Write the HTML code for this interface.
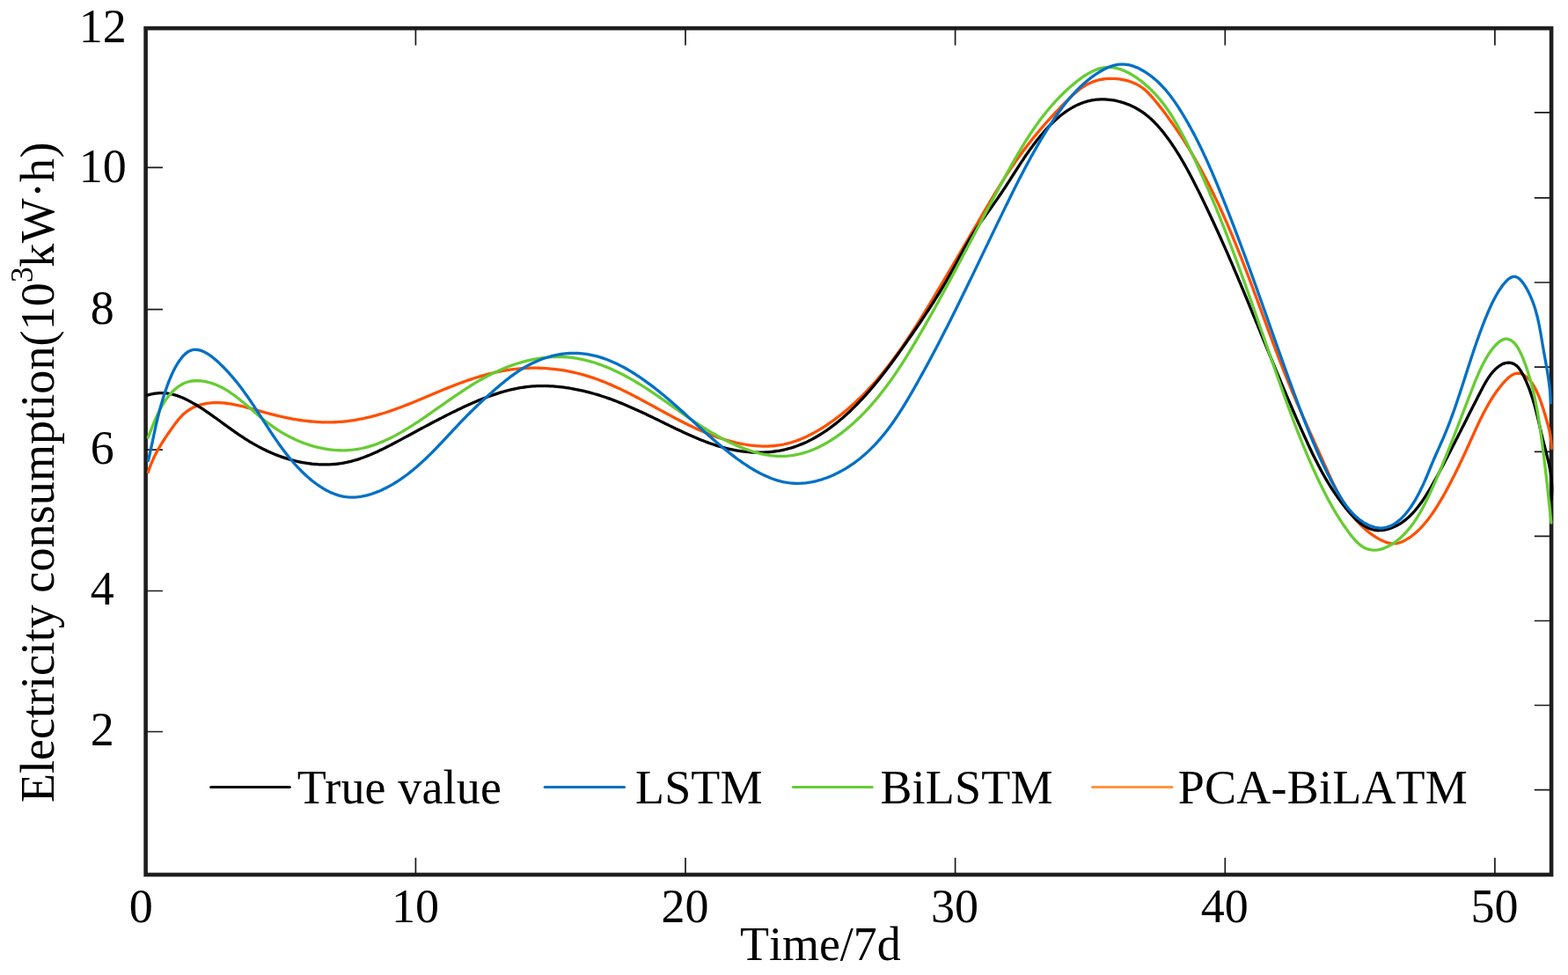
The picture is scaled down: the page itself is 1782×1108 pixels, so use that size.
<!DOCTYPE html>
<html lang="en"><head><meta charset="utf-8"><title>Electricity consumption forecast</title>
<style>html,body{margin:0;padding:0;background:#fff}body{width:1782px;height:1108px;overflow:hidden}svg{display:block}text{font-family:"Liberation Serif","Times New Roman",serif;fill:#000;font-kerning:none;font-variant-ligatures:none}.tk{stroke:#1a1a1a;stroke-width:1.7;fill:none}.cv{fill:none;stroke-width:3.3;stroke-linecap:round;stroke-linejoin:round}.lg{fill:none;stroke-width:3.2;stroke-linecap:round}</style></head><body>
<svg width="1782" height="1108" viewBox="0 0 1782 1108">
<rect x="0" y="0" width="1782" height="1108" fill="#fff"/>
<!-- plot frame and tick marks -->
<rect x="165.60" y="32.10" width="1597.50" height="961.90" fill="none" stroke="#1e1e1e" stroke-width="4.6"/>
<path class="tk" d="M165.60 190.30H184.90M165.60 351.60H184.90M165.60 511.20H184.90M165.60 671.50H184.90M165.60 831.50H184.90M1763.10 127.85H1743.80M1763.10 224.95H1743.80M1763.10 321.00H1743.80M1763.10 417.10H1743.80M1763.10 513.30H1743.80M1763.10 609.40H1743.80M1763.10 705.50H1743.80M1763.10 801.50H1743.80M1763.10 897.60H1743.80M472.40 994.00V974.70M472.40 32.10V51.40M779.00 994.00V974.70M779.00 32.10V51.40M1085.60 994.00V974.70M1085.60 32.10V51.40M1392.30 994.00V974.70M1392.30 32.10V51.40M1698.90 994.00V974.70M1698.90 32.10V51.40"/>
<!-- data curves (drawn bottom to top: PCA-BiLATM, True value, BiLSTM, LSTM) -->
<path class="cv" stroke="#ff5000" d="M168.41 536.47L169.23 534.01 170.09 531.59 170.98 529.22 171.92 526.88 172.89 524.58 173.89 522.3 174.93 520.06 176 517.85 177.11 515.66 178.25 513.5 179.42 511.35 180.62 509.22 181.85 507.11 183.11 505.01 184.4 502.92 185.72 500.83 187.07 498.76 188.44 496.68 189.84 494.6 191.26 492.53 192.71 490.44 194.18 488.35 195.68 486.25 197.19 484.14 198.74 482.03 200.32 479.94 201.93 477.88 203.6 475.87 205.32 473.93 207.1 472.07 208.95 470.31 210.87 468.67 212.86 467.16 214.93 465.77 217.05 464.51 219.22 463.37 221.43 462.34 223.68 461.42 225.95 460.61 228.24 459.9 230.54 459.3 232.86 458.79 235.19 458.37 237.53 458.05 239.89 457.81 242.26 457.66 244.64 457.58 247.03 457.58 249.44 457.64 251.85 457.78 254.28 457.98 256.71 458.24 259.15 458.55 261.6 458.92 264.06 459.33 266.52 459.79 268.99 460.29 271.47 460.83 273.95 461.4 276.44 462.01 278.93 462.63 281.42 463.28 283.92 463.95 286.42 464.64 288.93 465.33 291.43 466.03 293.94 466.74 296.44 467.44 298.95 468.14 301.46 468.84 303.96 469.52 306.47 470.19 308.97 470.84 311.47 471.47 313.97 472.09 316.46 472.68 318.96 473.26 321.45 473.82 323.94 474.36 326.43 474.87 328.92 475.37 331.4 475.84 333.89 476.29 336.37 476.72 338.84 477.12 341.32 477.5 343.79 477.85 346.26 478.18 348.73 478.48 351.2 478.76 353.66 479.01 356.12 479.23 358.58 479.42 361.04 479.58 363.49 479.71 365.94 479.81 368.39 479.88 370.83 479.92 373.28 479.93 375.72 479.9 378.15 479.84 380.59 479.75 383.02 479.63 385.45 479.47 387.87 479.28 390.3 479.06 392.72 478.81 395.14 478.53 397.56 478.22 399.97 477.88 402.38 477.52 404.8 477.12 407.21 476.69 409.61 476.24 412.02 475.76 414.43 475.25 416.83 474.71 419.23 474.15 421.64 473.57 424.04 472.95 426.44 472.31 428.84 471.65 431.23 470.96 433.63 470.25 436.03 469.52 438.43 468.76 440.82 467.97 443.22 467.17 445.61 466.35 448.01 465.5 450.4 464.64 452.8 463.76 455.19 462.86 457.59 461.95 459.98 461.02 462.37 460.09 464.76 459.13 467.15 458.17 469.54 457.2 471.93 456.23 474.31 455.24 476.7 454.25 479.08 453.25 481.46 452.25 483.85 451.25 486.23 450.25 488.6 449.24 490.98 448.24 493.36 447.24 495.73 446.24 498.1 445.25 500.47 444.26 502.84 443.28 505.21 442.31 507.57 441.35 509.94 440.4 512.3 439.46 514.66 438.53 517.01 437.61 519.37 436.71 521.73 435.82 524.08 434.95 526.43 434.09 528.79 433.25 531.14 432.42 533.49 431.62 535.85 430.82 538.2 430.05 540.56 429.3 542.92 428.56 545.28 427.85 547.64 427.15 550 426.48 552.37 425.83 554.74 425.2 557.11 424.59 559.49 424.01 561.87 423.45 564.25 422.92 566.64 422.41 569.03 421.92 571.43 421.47 573.83 421.04 576.24 420.63 578.66 420.26 581.08 419.91 583.5 419.6 585.94 419.31 588.38 419.06 590.82 418.83 593.28 418.64 595.74 418.48 598.21 418.35 600.69 418.25 603.17 418.19 605.66 418.16 608.15 418.15 610.65 418.19 613.15 418.25 615.65 418.34 618.16 418.47 620.66 418.62 623.17 418.81 625.68 419.03 628.19 419.28 630.69 419.56 633.2 419.87 635.7 420.21 638.19 420.58 640.69 420.98 643.18 421.41 645.66 421.87 648.14 422.36 650.61 422.88 653.07 423.42 655.53 424 657.98 424.61 660.41 425.24 662.84 425.9 665.26 426.6 667.66 427.32 670.06 428.06 672.44 428.84 674.82 429.64 677.18 430.46 679.53 431.31 681.87 432.19 684.21 433.09 686.53 434 688.85 434.94 691.15 435.9 693.45 436.88 695.74 437.88 698.03 438.9 700.31 439.94 702.58 440.99 704.84 442.05 707.1 443.13 709.35 444.23 711.6 445.34 713.84 446.46 716.08 447.59 718.31 448.73 720.54 449.88 722.76 451.05 724.98 452.22 727.2 453.39 729.42 454.58 731.63 455.77 733.84 456.97 736.05 458.17 738.25 459.37 740.46 460.57 742.67 461.78 744.87 462.99 747.07 464.2 749.28 465.41 751.48 466.62 753.69 467.82 755.89 469.03 758.1 470.22 760.31 471.42 762.52 472.61 764.74 473.79 766.95 474.97 769.17 476.13 771.4 477.29 773.62 478.44 775.85 479.58 778.09 480.71 780.33 481.83 782.57 482.93 784.82 484.02 787.08 485.1 789.34 486.16 791.61 487.21 793.88 488.24 796.16 489.25 798.45 490.24 800.75 491.21 803.05 492.17 805.36 493.1 807.68 494.02 810.01 494.91 812.35 495.77 814.7 496.62 817.06 497.43 819.42 498.23 821.8 498.99 824.19 499.73 826.59 500.44 829 501.13 831.43 501.78 833.86 502.4 836.3 502.99 838.76 503.55 841.21 504.07 843.68 504.55 846.15 505 848.63 505.4 851.11 505.77 853.59 506.09 856.08 506.37 858.57 506.61 861.05 506.8 863.54 506.94 866.03 507.04 868.51 507.08 870.99 507.08 873.47 507.02 875.94 506.9 878.4 506.73 880.86 506.51 883.31 506.22 885.75 505.88 888.19 505.48 890.61 505.01 893.02 504.48 895.42 503.9 897.81 503.25 900.19 502.55 902.55 501.79 904.9 500.98 907.24 500.12 909.56 499.21 911.87 498.26 914.17 497.25 916.46 496.21 918.72 495.12 920.98 493.99 923.22 492.83 925.44 491.63 927.64 490.39 929.84 489.12 932.01 487.82 934.17 486.5 936.31 485.14 938.43 483.76 940.53 482.36 942.62 480.94 944.69 479.49 946.74 478.03 948.77 476.55 950.78 475.05 952.77 473.54 954.75 472 956.71 470.45 958.65 468.89 960.57 467.31 962.48 465.71 964.37 464.09 966.25 462.46 968.1 460.81 969.95 459.15 971.77 457.47 973.58 455.78 975.38 454.07 977.16 452.35 978.93 450.62 980.68 448.87 982.41 447.1 984.14 445.32 985.85 443.53 987.54 441.73 989.22 439.91 990.89 438.08 992.55 436.24 994.19 434.39 995.82 432.52 997.44 430.65 999.04 428.76 1000.64 426.86 1002.22 424.95 1003.79 423.03 1005.35 421.09 1006.9 419.15 1008.43 417.2 1009.96 415.24 1011.48 413.26 1012.98 411.28 1014.48 409.29 1015.97 407.29 1017.45 405.29 1018.92 403.27 1020.38 401.24 1021.83 399.21 1023.27 397.17 1024.7 395.12 1026.13 393.07 1027.55 391.01 1028.96 388.94 1030.36 386.86 1031.76 384.78 1033.15 382.69 1034.53 380.6 1035.91 378.5 1037.28 376.39 1038.64 374.28 1040 372.17 1041.36 370.05 1042.7 367.92 1044.05 365.79 1045.39 363.66 1046.72 361.52 1048.05 359.38 1049.37 357.24 1050.69 355.1 1052.01 352.95 1053.33 350.79 1054.64 348.64 1055.94 346.48 1057.25 344.32 1058.55 342.16 1059.85 340 1061.15 337.84 1062.44 335.68 1063.74 333.51 1065.03 331.35 1066.32 329.18 1067.61 327.02 1068.9 324.85 1070.19 322.68 1071.48 320.52 1072.77 318.35 1074.05 316.19 1075.34 314.02 1076.62 311.86 1077.9 309.69 1079.18 307.52 1080.46 305.36 1081.74 303.19 1083.02 301.03 1084.3 298.86 1085.57 296.7 1086.85 294.53 1088.12 292.37 1089.39 290.2 1090.67 288.04 1091.94 285.88 1093.21 283.71 1094.48 281.55 1095.74 279.39 1097.01 277.23 1098.28 275.06 1099.54 272.9 1100.81 270.74 1102.07 268.58 1103.33 266.42 1104.59 264.26 1105.85 262.11 1107.11 259.95 1108.37 257.79 1109.63 255.63 1110.88 253.48 1112.14 251.32 1113.39 249.17 1114.65 247.02 1115.9 244.87 1117.16 242.72 1118.42 240.57 1119.68 238.42 1120.94 236.28 1122.2 234.13 1123.46 231.99 1124.73 229.85 1126 227.72 1127.28 225.58 1128.56 223.45 1129.84 221.32 1131.13 219.2 1132.42 217.07 1133.72 214.96 1135.03 212.84 1136.34 210.73 1137.66 208.62 1138.98 206.51 1140.31 204.41 1141.65 202.32 1143 200.22 1144.35 198.13 1145.72 196.05 1147.09 193.97 1148.47 191.9 1149.87 189.83 1151.27 187.76 1152.68 185.7 1154.11 183.65 1155.54 181.6 1156.99 179.56 1158.45 177.52 1159.92 175.49 1161.4 173.46 1162.9 171.45 1164.41 169.43 1165.93 167.43 1167.47 165.43 1169.02 163.43 1170.58 161.45 1172.15 159.47 1173.73 157.5 1175.32 155.54 1176.93 153.58 1178.54 151.63 1180.17 149.7 1181.8 147.76 1183.44 145.84 1185.09 143.93 1186.75 142.03 1188.42 140.13 1190.1 138.24 1191.78 136.37 1193.47 134.5 1195.16 132.65 1196.86 130.8 1198.57 128.96 1200.28 127.14 1202 125.32 1203.72 123.52 1205.45 121.73 1207.18 119.95 1208.91 118.18 1210.65 116.42 1212.39 114.67 1214.13 112.94 1215.89 111.22 1217.65 109.54 1219.43 107.88 1221.23 106.25 1223.06 104.67 1224.91 103.14 1226.8 101.66 1228.73 100.23 1230.7 98.88 1232.72 97.59 1234.79 96.37 1236.91 95.24 1239.09 94.19 1241.34 93.24 1243.66 92.38 1246.04 91.63 1248.5 90.98 1251.01 90.44 1253.57 90 1256.17 89.67 1258.81 89.44 1261.47 89.31 1264.15 89.3 1266.84 89.39 1269.53 89.58 1272.21 89.88 1274.88 90.29 1277.52 90.8 1280.14 91.42 1282.71 92.15 1285.23 92.98 1287.7 93.93 1290.11 94.98 1292.44 96.13 1294.69 97.4 1296.85 98.77 1298.92 100.26 1300.9 101.84 1302.8 103.5 1304.62 105.24 1306.39 107.05 1308.1 108.91 1309.77 110.82 1311.41 112.75 1313.03 114.71 1314.62 116.67 1316.21 118.64 1317.78 120.62 1319.34 122.61 1320.89 124.6 1322.42 126.6 1323.94 128.6 1325.45 130.62 1326.95 132.64 1328.43 134.66 1329.9 136.7 1331.36 138.74 1332.81 140.78 1334.25 142.83 1335.67 144.89 1337.09 146.96 1338.49 149.03 1339.88 151.11 1341.26 153.19 1342.63 155.28 1343.98 157.37 1345.33 159.47 1346.67 161.58 1347.99 163.69 1349.31 165.81 1350.61 167.94 1351.9 170.06 1353.19 172.2 1354.46 174.34 1355.73 176.48 1356.98 178.64 1358.23 180.79 1359.46 182.95 1360.69 185.12 1361.91 187.29 1363.11 189.46 1364.31 191.65 1365.5 193.83 1366.68 196.02 1367.86 198.22 1369.02 200.42 1370.18 202.62 1371.32 204.83 1372.46 207.04 1373.59 209.26 1374.72 211.48 1375.83 213.7 1376.94 215.93 1378.04 218.17 1379.13 220.41 1380.22 222.65 1381.3 224.89 1382.37 227.14 1383.43 229.4 1384.49 231.65 1385.54 233.91 1386.58 236.18 1387.62 238.44 1388.65 240.72 1389.68 242.99 1390.7 245.27 1391.71 247.55 1392.72 249.83 1393.72 252.12 1394.71 254.41 1395.7 256.7 1396.69 259 1397.67 261.29 1398.64 263.6 1399.61 265.9 1400.58 268.21 1401.53 270.51 1402.49 272.83 1403.44 275.14 1404.39 277.46 1405.33 279.77 1406.26 282.09 1407.2 284.42 1408.13 286.74 1409.05 289.07 1409.97 291.4 1410.89 293.73 1411.81 296.06 1412.72 298.4 1413.63 300.73 1414.53 303.07 1415.43 305.41 1416.33 307.75 1417.23 310.09 1418.12 312.43 1419.01 314.78 1419.9 317.12 1420.79 319.47 1421.67 321.82 1422.55 324.17 1423.43 326.52 1424.31 328.87 1425.19 331.22 1426.06 333.57 1426.94 335.93 1427.81 338.28 1428.68 340.63 1429.55 342.99 1430.42 345.34 1431.29 347.7 1432.16 350.06 1433.03 352.41 1433.89 354.77 1434.76 357.12 1435.63 359.48 1436.49 361.83 1437.36 364.19 1438.23 366.54 1439.1 368.9 1439.97 371.25 1440.84 373.6 1441.71 375.95 1442.58 378.31 1443.45 380.66 1444.32 383.01 1445.2 385.35 1446.08 387.7 1446.96 390.05 1447.84 392.39 1448.72 394.74 1449.6 397.08 1450.49 399.42 1451.38 401.76 1452.27 404.1 1453.16 406.43 1454.06 408.77 1454.96 411.1 1455.86 413.43 1456.77 415.76 1457.68 418.08 1458.59 420.41 1459.51 422.73 1460.43 425.05 1461.35 427.36 1462.28 429.68 1463.21 431.99 1464.15 434.3 1465.09 436.6 1466.03 438.91 1466.98 441.21 1467.94 443.5 1468.89 445.8 1469.86 448.09 1470.83 450.38 1471.8 452.67 1472.77 454.95 1473.75 457.23 1474.74 459.52 1475.72 461.8 1476.72 464.08 1477.71 466.35 1478.71 468.63 1479.71 470.91 1480.71 473.18 1481.72 475.46 1482.73 477.74 1483.74 480.01 1484.76 482.29 1485.78 484.57 1486.8 486.84 1487.82 489.12 1488.84 491.4 1489.87 493.68 1490.9 495.96 1491.93 498.24 1492.96 500.53 1493.99 502.82 1495.03 505.1 1496.06 507.4 1497.1 509.69 1498.14 511.99 1499.18 514.28 1500.22 516.59 1501.26 518.89 1502.3 521.2 1503.34 523.51 1504.38 525.83 1505.43 528.15 1506.47 530.47 1507.52 532.8 1508.57 535.12 1509.62 537.44 1510.69 539.76 1511.76 542.08 1512.84 544.39 1513.93 546.7 1515.03 548.99 1516.14 551.28 1517.27 553.56 1518.41 555.82 1519.57 558.07 1520.75 560.31 1521.95 562.54 1523.16 564.74 1524.4 566.93 1525.66 569.1 1526.95 571.24 1528.26 573.37 1529.6 575.47 1530.96 577.54 1532.36 579.59 1533.78 581.62 1535.24 583.61 1536.73 585.58 1538.26 587.51 1539.81 589.41 1541.41 591.28 1543.04 593.11 1544.72 594.9 1546.43 596.66 1548.19 598.38 1549.99 600.06 1551.83 601.69 1553.72 603.28 1555.65 604.83 1557.63 606.34 1559.67 607.79 1561.75 609.2 1563.88 610.56 1566.07 611.86 1568.31 613.11 1570.58 614.27 1572.89 615.3 1575.21 616.2 1577.53 616.91 1579.85 617.42 1582.16 617.69 1584.43 617.72 1586.68 617.52 1588.9 617.1 1591.09 616.48 1593.25 615.69 1595.37 614.75 1597.47 613.66 1599.53 612.45 1601.55 611.15 1603.54 609.75 1605.5 608.28 1607.42 606.72 1609.3 605.1 1611.16 603.4 1612.98 601.64 1614.76 599.82 1616.52 597.94 1618.24 596 1619.93 594.02 1621.59 591.99 1623.22 589.91 1624.82 587.8 1626.39 585.64 1627.93 583.46 1629.45 581.25 1630.93 579.02 1632.39 576.76 1633.83 574.49 1635.23 572.21 1636.61 569.91 1637.97 567.61 1639.3 565.31 1640.6 563.01 1641.89 560.72 1643.15 558.43 1644.38 556.16 1645.6 553.91 1646.79 551.67 1647.96 549.45 1649.12 547.24 1650.25 545.04 1651.37 542.86 1652.48 540.68 1653.57 538.51 1654.64 536.35 1655.71 534.19 1656.76 532.04 1657.8 529.88 1658.83 527.73 1659.86 525.58 1660.88 523.43 1661.89 521.28 1662.9 519.12 1663.91 516.95 1664.91 514.78 1665.91 512.6 1666.92 510.41 1667.92 508.21 1668.93 506 1669.94 503.77 1670.95 501.53 1671.97 499.27 1673 496.99 1674.03 494.7 1675.07 492.4 1676.13 490.08 1677.19 487.76 1678.27 485.43 1679.36 483.09 1680.46 480.75 1681.58 478.41 1682.72 476.08 1683.88 473.74 1685.05 471.41 1686.25 469.09 1687.47 466.77 1688.71 464.47 1689.97 462.18 1691.26 459.9 1692.57 457.65 1693.92 455.41 1695.29 453.19 1696.69 450.99 1698.12 448.83 1699.58 446.68 1701.08 444.57 1702.61 442.49 1704.17 440.44 1705.77 438.42 1707.41 436.44 1709.09 434.51 1710.81 432.64 1712.55 430.87 1714.33 429.23 1716.14 427.76 1717.97 426.5 1719.83 425.47 1721.7 424.71 1723.59 424.25 1725.49 424.14 1727.4 424.38 1729.31 424.96 1731.21 425.85 1733.07 427.03 1734.91 428.47 1736.69 430.13 1738.41 432.01 1740.07 434.06 1741.63 436.27 1743.11 438.61 1744.5 441.05 1745.81 443.58 1747.04 446.18 1748.19 448.81 1749.27 451.47 1750.29 454.12 1751.24 456.76 1752.13 459.34 1752.97 461.88 1753.77 464.37 1754.52 466.8 1755.24 469.19 1755.93 471.53 1756.6 473.82 1757.26 476.07 1757.91 478.29 1758.53 480.47 1759.14 482.65 1759.72 484.82 1760.28 487.01 1760.8 489.22 1761.28 491.47 1761.73 493.78 1762.12 496.15 1762.47 498.6 1762.77 501.14 1763 503.78 1763.18 506.54 1763.29 509.43"/>
<path class="cv" stroke="#000000" d="M167.2 449.06L170.3 448.28 173.3 447.66 176.2 447.2 179.01 446.89 181.73 446.72 184.37 446.68 186.93 446.77 189.42 446.97 191.85 447.29 194.22 447.72 196.53 448.24 198.81 448.85 201.04 449.55 203.23 450.33 205.4 451.17 207.55 452.08 209.68 453.05 211.8 454.06 213.91 455.12 216.02 456.23 218.12 457.37 220.21 458.56 222.3 459.78 224.39 461.03 226.47 462.32 228.54 463.64 230.62 464.99 232.69 466.36 234.76 467.76 236.83 469.17 238.9 470.61 240.96 472.07 243.03 473.54 245.1 475.02 247.18 476.52 249.25 478.02 251.33 479.53 253.41 481.05 255.49 482.56 257.58 484.08 259.68 485.6 261.78 487.11 263.89 488.62 266.01 490.11 268.13 491.6 270.26 493.08 272.4 494.54 274.55 495.98 276.71 497.41 278.88 498.81 281.06 500.19 283.25 501.54 285.46 502.87 287.68 504.17 289.91 505.44 292.15 506.68 294.4 507.89 296.67 509.07 298.94 510.22 301.22 511.33 303.52 512.42 305.82 513.47 308.13 514.49 310.45 515.48 312.78 516.43 315.12 517.35 317.46 518.23 319.81 519.08 322.17 519.9 324.53 520.67 326.9 521.41 329.27 522.12 331.65 522.78 334.04 523.41 336.42 524 338.81 524.55 341.21 525.06 343.61 525.53 346.01 525.97 348.41 526.36 350.82 526.7 353.22 527.01 355.63 527.28 358.04 527.5 360.45 527.68 362.86 527.82 365.26 527.91 367.67 527.95 370.08 527.96 372.48 527.91 374.88 527.83 377.28 527.69 379.68 527.51 382.07 527.28 384.46 527 386.85 526.68 389.23 526.3 391.61 525.88 393.98 525.41 396.35 524.88 398.71 524.31 401.06 523.69 403.41 523.02 405.76 522.31 408.1 521.56 410.43 520.77 412.77 519.93 415.09 519.07 417.41 518.16 419.73 517.22 422.05 516.25 424.36 515.25 426.67 514.23 428.97 513.17 431.27 512.09 433.57 510.99 435.87 509.87 438.16 508.73 440.45 507.57 442.74 506.4 445.03 505.21 447.31 504.01 449.6 502.8 451.88 501.58 454.16 500.36 456.44 499.13 458.72 497.89 461 496.66 463.28 495.43 465.55 494.19 467.83 492.96 470.11 491.73 472.38 490.5 474.66 489.27 476.93 488.05 479.21 486.82 481.48 485.61 483.76 484.39 486.03 483.18 488.3 481.97 490.57 480.77 492.85 479.58 495.12 478.39 497.39 477.21 499.66 476.03 501.93 474.86 504.19 473.7 506.46 472.55 508.73 471.4 511 470.27 513.26 469.14 515.53 468.03 517.79 466.92 520.06 465.83 522.32 464.74 524.59 463.67 526.85 462.61 529.11 461.56 531.37 460.53 533.63 459.51 535.9 458.5 538.16 457.51 540.42 456.53 542.69 455.58 544.95 454.64 547.22 453.71 549.49 452.81 551.76 451.93 554.04 451.06 556.31 450.22 558.6 449.4 560.88 448.61 563.18 447.84 565.47 447.09 567.77 446.37 570.08 445.67 572.4 445.01 574.72 444.37 577.04 443.76 579.38 443.17 581.72 442.62 584.07 442.1 586.43 441.62 588.79 441.16 591.17 440.74 593.56 440.35 595.95 440 598.36 439.69 600.77 439.41 603.2 439.17 605.64 438.97 608.09 438.8 610.55 438.68 613.03 438.6 615.51 438.56 618.01 438.55 620.52 438.59 623.03 438.67 625.56 438.78 628.09 438.93 630.63 439.11 633.17 439.33 635.71 439.59 638.26 439.88 640.81 440.2 643.36 440.55 645.91 440.94 648.46 441.35 651 441.8 653.54 442.27 656.08 442.77 658.61 443.3 661.13 443.86 663.65 444.44 666.16 445.05 668.66 445.68 671.14 446.34 673.62 447.02 676.08 447.72 678.53 448.44 680.96 449.18 683.38 449.95 685.78 450.73 688.17 451.53 690.55 452.35 692.92 453.18 695.27 454.04 697.61 454.91 699.94 455.79 702.26 456.7 704.57 457.61 706.87 458.54 709.16 459.49 711.44 460.44 713.72 461.41 715.98 462.39 718.25 463.39 720.5 464.39 722.75 465.4 725 466.42 727.24 467.46 729.48 468.5 731.71 469.54 733.95 470.6 736.18 471.66 738.41 472.73 740.64 473.8 742.86 474.88 745.09 475.97 747.32 477.05 749.55 478.14 751.79 479.24 754.02 480.33 756.26 481.43 758.5 482.52 760.75 483.62 763 484.72 765.25 485.81 767.51 486.9 769.77 487.98 772.04 489.06 774.31 490.12 776.58 491.19 778.86 492.24 781.15 493.28 783.44 494.31 785.73 495.32 788.03 496.32 790.34 497.31 792.65 498.28 794.97 499.23 797.3 500.17 799.63 501.08 801.96 501.97 804.31 502.84 806.66 503.69 809.01 504.51 811.38 505.31 813.75 506.08 816.13 506.82 818.51 507.54 820.91 508.22 823.31 508.87 825.72 509.49 828.14 510.08 830.56 510.63 832.99 511.15 835.44 511.63 837.89 512.07 840.35 512.47 842.82 512.83 845.29 513.15 847.78 513.43 850.27 513.66 852.77 513.85 855.28 514 857.78 514.1 860.29 514.17 862.8 514.18 865.31 514.15 867.82 514.08 870.33 513.96 872.83 513.79 875.32 513.58 877.81 513.32 880.29 513.01 882.76 512.66 885.22 512.26 887.67 511.81 890.1 511.31 892.52 510.76 894.92 510.16 897.31 509.51 899.68 508.82 902.03 508.07 904.37 507.28 906.69 506.45 908.99 505.57 911.27 504.64 913.54 503.68 915.79 502.67 918.02 501.62 920.24 500.53 922.44 499.4 924.63 498.23 926.79 497.03 928.94 495.79 931.08 494.51 933.2 493.2 935.3 491.86 937.38 490.49 939.45 489.08 941.5 487.65 943.53 486.18 945.55 484.69 947.55 483.17 949.54 481.62 951.51 480.05 953.46 478.46 955.4 476.84 957.31 475.2 959.22 473.53 961.11 471.85 962.98 470.15 964.83 468.43 966.67 466.69 968.49 464.93 970.3 463.16 972.09 461.38 973.86 459.58 975.62 457.77 977.36 455.95 979.09 454.12 980.79 452.27 982.49 450.42 984.17 448.56 985.83 446.69 987.48 444.81 989.12 442.93 990.74 441.03 992.35 439.13 993.95 437.22 995.53 435.3 997.1 433.38 998.67 431.44 1000.22 429.5 1001.76 427.56 1003.29 425.6 1004.82 423.64 1006.33 421.68 1007.84 419.7 1009.34 417.72 1010.83 415.74 1012.32 413.75 1013.8 411.75 1015.27 409.75 1016.74 407.74 1018.2 405.73 1019.66 403.71 1021.12 401.69 1022.57 399.66 1024.02 397.63 1025.47 395.6 1026.91 393.56 1028.35 391.51 1029.8 389.47 1031.24 387.42 1032.68 385.36 1034.12 383.3 1035.55 381.24 1036.99 379.18 1038.42 377.11 1039.85 375.04 1041.28 372.96 1042.7 370.88 1044.12 368.8 1045.54 366.71 1046.95 364.62 1048.36 362.52 1049.76 360.42 1051.16 358.32 1052.55 356.21 1053.94 354.1 1055.32 351.99 1056.7 349.87 1058.07 347.75 1059.43 345.63 1060.79 343.5 1062.14 341.36 1063.48 339.23 1064.81 337.09 1066.14 334.94 1067.45 332.79 1068.76 330.64 1070.06 328.48 1071.35 326.32 1072.64 324.16 1073.91 321.99 1075.18 319.82 1076.44 317.65 1077.69 315.47 1078.93 313.3 1080.17 311.11 1081.4 308.93 1082.62 306.74 1083.84 304.55 1085.05 302.36 1086.26 300.17 1087.45 297.98 1088.65 295.78 1089.84 293.59 1091.02 291.39 1092.21 289.2 1093.4 287.01 1094.6 284.82 1095.8 282.64 1097.01 280.46 1098.23 278.29 1099.46 276.14 1100.71 273.99 1101.98 271.85 1103.26 269.72 1104.57 267.61 1105.89 265.51 1107.23 263.42 1108.59 261.34 1109.96 259.27 1111.35 257.21 1112.75 255.16 1114.16 253.12 1115.58 251.08 1117 249.05 1118.44 247.02 1119.88 245 1121.32 242.98 1122.76 240.96 1124.21 238.95 1125.66 236.93 1127.1 234.92 1128.54 232.9 1129.98 230.89 1131.41 228.87 1132.83 226.85 1134.25 224.83 1135.65 222.8 1137.05 220.76 1138.43 218.72 1139.8 216.67 1141.16 214.62 1142.51 212.56 1143.86 210.5 1145.2 208.43 1146.54 206.35 1147.88 204.27 1149.21 202.18 1150.55 200.09 1151.89 198 1153.24 195.89 1154.59 193.79 1155.95 191.68 1157.32 189.56 1158.7 187.44 1160.09 185.32 1161.5 183.19 1162.92 181.06 1164.36 178.92 1165.82 176.78 1167.3 174.64 1168.79 172.5 1170.31 170.37 1171.84 168.24 1173.39 166.12 1174.96 164.01 1176.55 161.91 1178.16 159.83 1179.78 157.76 1181.43 155.72 1183.1 153.69 1184.79 151.69 1186.5 149.71 1188.23 147.76 1189.98 145.84 1191.75 143.95 1193.54 142.1 1195.36 140.29 1197.19 138.51 1199.05 136.77 1200.93 135.08 1202.83 133.43 1204.76 131.82 1206.71 130.27 1208.68 128.77 1210.67 127.32 1212.68 125.93 1214.72 124.6 1216.79 123.32 1218.87 122.11 1220.98 120.96 1223.12 119.89 1225.27 118.87 1227.46 117.93 1229.67 117.07 1231.9 116.28 1234.16 115.56 1236.44 114.93 1238.75 114.38 1241.08 113.91 1243.44 113.53 1245.82 113.23 1248.23 113.03 1250.66 112.91 1253.11 112.88 1255.57 112.94 1258.04 113.07 1260.51 113.3 1262.99 113.6 1265.47 113.98 1267.94 114.45 1270.4 114.99 1272.86 115.61 1275.29 116.3 1277.71 117.07 1280.11 117.92 1282.48 118.84 1284.82 119.83 1287.13 120.89 1289.4 122.02 1291.64 123.21 1293.83 124.48 1295.97 125.81 1298.06 127.21 1300.11 128.66 1302.12 130.18 1304.09 131.75 1306.01 133.37 1307.89 135.04 1309.73 136.76 1311.54 138.53 1313.31 140.33 1315.04 142.18 1316.74 144.06 1318.41 145.97 1320.05 147.91 1321.66 149.89 1323.24 151.88 1324.79 153.9 1326.31 155.94 1327.81 157.99 1329.29 160.06 1330.74 162.14 1332.18 164.23 1333.59 166.33 1334.98 168.44 1336.35 170.56 1337.7 172.69 1339.04 174.83 1340.35 176.97 1341.65 179.13 1342.94 181.29 1344.2 183.47 1345.46 185.64 1346.69 187.83 1347.92 190.02 1349.13 192.21 1350.33 194.42 1351.52 196.62 1352.69 198.83 1353.86 201.05 1355.01 203.27 1356.16 205.49 1357.3 207.71 1358.43 209.94 1359.56 212.17 1360.68 214.4 1361.79 216.63 1362.9 218.86 1364 221.1 1365.1 223.33 1366.19 225.56 1367.28 227.8 1368.37 230.04 1369.45 232.27 1370.52 234.51 1371.6 236.75 1372.66 238.99 1373.73 241.24 1374.79 243.48 1375.84 245.73 1376.9 247.97 1377.95 250.22 1378.99 252.47 1380.03 254.72 1381.07 256.97 1382.11 259.23 1383.14 261.48 1384.17 263.74 1385.19 266 1386.21 268.26 1387.23 270.53 1388.25 272.79 1389.26 275.06 1390.27 277.33 1391.28 279.6 1392.29 281.88 1393.29 284.15 1394.29 286.43 1395.29 288.71 1396.29 291 1397.28 293.28 1398.27 295.57 1399.26 297.86 1400.25 300.16 1401.24 302.45 1402.22 304.75 1403.21 307.05 1404.19 309.36 1405.17 311.66 1406.14 313.97 1407.12 316.28 1408.1 318.59 1409.07 320.9 1410.04 323.22 1411.01 325.53 1411.98 327.85 1412.95 330.17 1413.91 332.49 1414.88 334.81 1415.84 337.14 1416.81 339.46 1417.77 341.79 1418.73 344.11 1419.69 346.44 1420.65 348.77 1421.6 351.09 1422.56 353.42 1423.52 355.75 1424.47 358.08 1425.43 360.41 1426.38 362.74 1427.34 365.07 1428.29 367.4 1429.24 369.73 1430.19 372.06 1431.15 374.39 1432.1 376.71 1433.05 379.04 1434 381.37 1434.95 383.7 1435.9 386.02 1436.85 388.35 1437.8 390.67 1438.75 393 1439.7 395.32 1440.65 397.64 1441.6 399.96 1442.55 402.28 1443.5 404.59 1444.45 406.91 1445.4 409.22 1446.35 411.53 1447.31 413.84 1448.26 416.15 1449.21 418.46 1450.16 420.76 1451.12 423.06 1452.07 425.36 1453.03 427.66 1453.99 429.96 1454.94 432.25 1455.9 434.54 1456.86 436.84 1457.82 439.12 1458.79 441.41 1459.75 443.7 1460.71 445.98 1461.68 448.27 1462.65 450.55 1463.62 452.83 1464.59 455.11 1465.57 457.38 1466.55 459.66 1467.53 461.93 1468.51 464.21 1469.49 466.48 1470.48 468.75 1471.47 471.02 1472.46 473.29 1473.45 475.55 1474.45 477.82 1475.45 480.08 1476.45 482.35 1477.46 484.61 1478.47 486.87 1479.48 489.13 1480.5 491.39 1481.52 493.65 1482.54 495.91 1483.57 498.17 1484.6 500.43 1485.63 502.68 1486.68 504.94 1487.73 507.19 1488.78 509.44 1489.85 511.68 1490.92 513.93 1492 516.17 1493.09 518.41 1494.19 520.64 1495.31 522.87 1496.43 525.1 1497.57 527.32 1498.72 529.54 1499.89 531.76 1501.07 533.96 1502.27 536.17 1503.48 538.36 1504.71 540.55 1505.95 542.74 1507.22 544.92 1508.5 547.09 1509.81 549.25 1511.13 551.41 1512.47 553.56 1513.84 555.7 1515.23 557.83 1516.64 559.96 1518.08 562.07 1519.54 564.18 1521.02 566.28 1522.53 568.36 1524.07 570.44 1525.63 572.51 1527.23 574.57 1528.85 576.62 1530.5 578.65 1532.18 580.67 1533.89 582.68 1535.63 584.65 1537.41 586.57 1539.22 588.44 1541.07 590.25 1542.95 591.98 1544.87 593.62 1546.83 595.16 1548.83 596.59 1550.87 597.9 1552.95 599.08 1555.08 600.11 1557.24 600.99 1559.46 601.71 1561.72 602.25 1564.03 602.6 1566.38 602.75 1568.77 602.71 1571.19 602.5 1573.6 602.12 1576.01 601.6 1578.39 600.94 1580.73 600.17 1583.01 599.29 1585.23 598.32 1587.4 597.25 1589.51 596.1 1591.57 594.85 1593.57 593.52 1595.53 592.12 1597.43 590.64 1599.29 589.08 1601.11 587.46 1602.88 585.78 1604.61 584.03 1606.3 582.23 1607.95 580.37 1609.56 578.46 1611.14 576.51 1612.68 574.52 1614.19 572.49 1615.67 570.42 1617.12 568.32 1618.55 566.2 1619.94 564.05 1621.32 561.88 1622.67 559.7 1624 557.5 1625.31 555.3 1626.61 553.09 1627.89 550.87 1629.15 548.65 1630.4 546.43 1631.63 544.21 1632.85 541.98 1634.06 539.76 1635.25 537.53 1636.44 535.31 1637.61 533.09 1638.78 530.88 1639.94 528.67 1641.09 526.47 1642.24 524.27 1643.38 522.08 1644.52 519.89 1645.65 517.7 1646.78 515.53 1647.9 513.35 1649.02 511.18 1650.14 509 1651.25 506.83 1652.36 504.66 1653.47 502.5 1654.58 500.33 1655.68 498.16 1656.79 495.98 1657.9 493.81 1659 491.63 1660.11 489.45 1661.22 487.27 1662.33 485.08 1663.44 482.89 1664.55 480.69 1665.67 478.49 1666.79 476.28 1667.91 474.06 1669.04 471.83 1670.17 469.6 1671.31 467.35 1672.45 465.1 1673.6 462.84 1674.76 460.56 1675.92 458.28 1677.09 455.98 1678.26 453.67 1679.45 451.35 1680.64 449.01 1681.84 446.66 1683.05 444.3 1684.28 441.93 1685.52 439.57 1686.8 437.22 1688.11 434.9 1689.46 432.62 1690.85 430.39 1692.3 428.21 1693.81 426.11 1695.38 424.08 1697.02 422.14 1698.74 420.31 1700.54 418.58 1702.43 416.99 1704.4 415.56 1706.43 414.34 1708.52 413.36 1710.66 412.65 1712.85 412.25 1715.04 412.18 1717.21 412.45 1719.31 413.05 1721.31 414 1723.16 415.29 1724.87 416.9 1726.45 418.77 1727.93 420.85 1729.3 423.09 1730.59 425.44 1731.82 427.83 1732.99 430.25 1734.12 432.67 1735.19 435.1 1736.22 437.53 1737.2 439.98 1738.14 442.43 1739.04 444.88 1739.9 447.34 1740.73 449.81 1741.53 452.28 1742.29 454.75 1743.02 457.22 1743.73 459.69 1744.42 462.17 1745.08 464.64 1745.72 467.11 1746.34 469.59 1746.95 472.05 1747.55 474.52 1748.13 476.98 1748.7 479.44 1749.27 481.89 1749.83 484.33 1750.39 486.77 1750.96 489.2 1751.52 491.62 1752.08 494.03 1752.66 496.43 1753.24 498.83 1753.83 501.21 1754.43 503.58 1755.04 505.94 1755.65 508.29 1756.27 510.64 1756.88 512.99 1757.48 515.34 1758.07 517.68 1758.66 520.03 1759.22 522.39 1759.77 524.75 1760.29 527.12 1760.79 529.49 1761.26 531.89 1761.7 534.29 1762.1 536.71 1762.47 539.15 1762.79 541.61 1763.07 544.1 1763.31 546.6 1763.49 549.13 1763.61 551.69 1763.68 554.28 1763.69 556.89 1763.64 559.55 1763.51 562.23 1763.32 564.96 1763.05 567.72"/>
<path class="cv" stroke="#66cc33" d="M168.33 497.1L169.18 494.92 170.04 492.69 170.92 490.43 171.81 488.15 172.71 485.84 173.64 483.51 174.59 481.16 175.57 478.81 176.57 476.45 177.61 474.1 178.68 471.75 179.79 469.42 180.94 467.1 182.13 464.81 183.36 462.54 184.64 460.3 185.97 458.11 187.35 455.96 188.79 453.85 190.28 451.8 191.84 449.81 193.46 447.89 195.14 446.03 196.89 444.25 198.71 442.55 200.6 440.95 202.56 439.46 204.59 438.08 206.69 436.84 208.85 435.74 211.09 434.8 213.4 434.02 215.78 433.42 218.23 433 220.73 432.76 223.26 432.67 225.81 432.73 228.34 432.92 230.84 433.22 233.3 433.63 235.71 434.13 238.07 434.73 240.4 435.41 242.69 436.18 244.94 437.03 247.16 437.96 249.36 438.97 251.53 440.04 253.67 441.18 255.79 442.38 257.89 443.64 259.97 444.96 262.03 446.33 264.07 447.75 266.1 449.21 268.11 450.71 270.12 452.25 272.11 453.82 274.1 455.42 276.08 457.05 278.05 458.69 280.02 460.36 281.99 462.04 283.95 463.72 285.92 465.42 287.89 467.12 289.87 468.82 291.85 470.51 293.84 472.19 295.84 473.87 297.85 475.52 299.88 477.16 301.91 478.77 303.97 480.36 306.04 481.92 308.12 483.44 310.23 484.93 312.35 486.38 314.49 487.8 316.65 489.19 318.82 490.53 321.01 491.85 323.21 493.12 325.42 494.36 327.65 495.56 329.9 496.72 332.15 497.84 334.42 498.93 336.69 499.97 338.98 500.98 341.28 501.94 343.59 502.86 345.91 503.74 348.24 504.57 350.57 505.37 352.92 506.12 355.27 506.83 357.63 507.49 359.99 508.1 362.36 508.67 364.74 509.2 367.12 509.68 369.51 510.11 371.89 510.49 374.29 510.83 376.68 511.12 379.08 511.36 381.48 511.55 383.88 511.68 386.28 511.77 388.68 511.81 391.08 511.79 393.48 511.73 395.88 511.61 398.28 511.43 400.67 511.21 403.06 510.93 405.45 510.59 407.84 510.2 410.22 509.75 412.59 509.25 414.96 508.69 417.33 508.08 419.69 507.41 422.04 506.69 424.39 505.92 426.73 505.11 429.06 504.24 431.39 503.33 433.72 502.38 436.03 501.39 438.34 500.35 440.65 499.28 442.95 498.17 445.24 497.03 447.52 495.85 449.8 494.65 452.07 493.41 454.33 492.14 456.59 490.85 458.84 489.53 461.08 488.19 463.31 486.83 465.54 485.45 467.76 484.05 469.97 482.63 472.17 481.2 474.37 479.76 476.55 478.3 478.73 476.83 480.9 475.36 483.07 473.88 485.22 472.39 487.37 470.91 489.5 469.42 491.63 467.93 493.75 466.44 495.86 464.95 497.96 463.47 500.05 462 502.14 460.53 504.22 459.07 506.3 457.61 508.37 456.16 510.44 454.72 512.5 453.28 514.56 451.86 516.62 450.44 518.68 449.04 520.74 447.65 522.79 446.26 524.85 444.89 526.91 443.54 528.98 442.19 531.04 440.86 533.11 439.54 535.19 438.24 537.27 436.96 539.35 435.69 541.44 434.43 543.54 433.2 545.65 431.98 547.77 430.78 549.9 429.6 552.03 428.44 554.18 427.3 556.34 426.18 558.51 425.08 560.7 424 562.9 422.95 565.11 421.92 567.34 420.91 569.59 419.93 571.85 418.97 574.13 418.04 576.43 417.14 578.74 416.26 581.08 415.41 583.43 414.59 585.79 413.8 588.17 413.04 590.56 412.31 592.97 411.61 595.38 410.94 597.81 410.31 600.25 409.72 602.7 409.16 605.16 408.63 607.63 408.15 610.1 407.7 612.58 407.29 615.06 406.92 617.55 406.59 620.05 406.31 622.54 406.06 625.04 405.86 627.54 405.71 630.04 405.6 632.55 405.54 635.05 405.52 637.54 405.55 640.04 405.63 642.53 405.76 645.02 405.94 647.5 406.17 649.98 406.45 652.45 406.78 654.92 407.16 657.38 407.58 659.83 408.05 662.28 408.57 664.71 409.13 667.15 409.73 669.57 410.37 671.99 411.06 674.4 411.78 676.8 412.54 679.19 413.34 681.57 414.17 683.95 415.04 686.31 415.94 688.67 416.87 691.01 417.83 693.35 418.83 695.67 419.85 697.98 420.9 700.29 421.98 702.58 423.08 704.86 424.21 707.13 425.36 709.38 426.53 711.63 427.72 713.86 428.94 716.08 430.17 718.28 431.42 720.48 432.69 722.66 433.97 724.82 435.26 726.97 436.57 729.11 437.89 731.23 439.22 733.34 440.56 735.43 441.91 737.51 443.27 739.59 444.64 741.65 446.02 743.7 447.4 745.74 448.79 747.77 450.19 749.8 451.59 751.82 452.99 753.83 454.4 755.84 455.82 757.85 457.23 759.85 458.65 761.85 460.07 763.85 461.5 765.85 462.92 767.85 464.34 769.85 465.76 771.86 467.18 773.86 468.6 775.88 470.02 777.89 471.44 779.91 472.85 781.94 474.25 783.98 475.66 786.02 477.05 788.07 478.45 790.14 479.83 792.21 481.21 794.3 482.58 796.4 483.94 798.51 485.3 800.63 486.64 802.77 487.98 804.93 489.3 807.11 490.61 809.3 491.91 811.51 493.2 813.74 494.48 815.98 495.74 818.25 496.98 820.53 498.21 822.82 499.42 825.13 500.6 827.46 501.76 829.79 502.9 832.14 504.01 834.5 505.09 836.87 506.14 839.25 507.16 841.64 508.14 844.03 509.1 846.44 510.01 848.85 510.89 851.26 511.73 853.68 512.53 856.1 513.28 858.53 513.99 860.96 514.65 863.39 515.27 865.82 515.83 868.25 516.35 870.68 516.81 873.11 517.22 875.54 517.57 877.96 517.86 880.38 518.1 882.79 518.27 885.2 518.38 887.6 518.43 889.99 518.41 892.38 518.32 894.75 518.17 897.12 517.95 899.48 517.67 901.83 517.32 904.17 516.91 906.5 516.45 908.81 515.92 911.12 515.33 913.42 514.69 915.71 513.99 917.98 513.24 920.24 512.43 922.49 511.58 924.73 510.67 926.96 509.71 929.17 508.71 931.37 507.66 933.56 506.56 935.73 505.42 937.89 504.24 940.03 503.01 942.17 501.74 944.28 500.44 946.38 499.1 948.47 497.72 950.54 496.3 952.59 494.85 954.63 493.37 956.65 491.86 958.65 490.31 960.64 488.74 962.61 487.14 964.56 485.51 966.5 483.86 968.41 482.18 970.31 480.48 972.19 478.76 974.05 477.01 975.89 475.25 977.71 473.48 979.52 471.68 981.3 469.87 983.06 468.04 984.8 466.2 986.53 464.35 988.23 462.48 989.92 460.6 991.59 458.7 993.24 456.79 994.88 454.87 996.5 452.94 998.1 450.99 999.68 449.04 1001.25 447.07 1002.81 445.09 1004.35 443.1 1005.87 441.09 1007.38 439.08 1008.88 437.06 1010.36 435.03 1011.83 432.99 1013.29 430.94 1014.74 428.88 1016.17 426.82 1017.59 424.74 1019 422.66 1020.4 420.57 1021.79 418.48 1023.17 416.38 1024.54 414.27 1025.9 412.15 1027.25 410.03 1028.59 407.91 1029.92 405.78 1031.25 403.64 1032.57 401.5 1033.88 399.36 1035.18 397.21 1036.48 395.06 1037.77 392.91 1039.05 390.75 1040.33 388.59 1041.61 386.43 1042.88 384.27 1044.14 382.1 1045.4 379.94 1046.66 377.77 1047.92 375.6 1049.17 373.43 1050.41 371.26 1051.65 369.09 1052.89 366.92 1054.13 364.74 1055.36 362.57 1056.59 360.39 1057.82 358.22 1059.04 356.04 1060.26 353.86 1061.47 351.68 1062.69 349.5 1063.9 347.31 1065.11 345.13 1066.31 342.94 1067.51 340.76 1068.71 338.57 1069.91 336.39 1071.11 334.2 1072.3 332.01 1073.49 329.82 1074.68 327.63 1075.87 325.43 1077.05 323.24 1078.23 321.05 1079.42 318.85 1080.6 316.66 1081.77 314.46 1082.95 312.26 1084.12 310.07 1085.3 307.87 1086.47 305.67 1087.64 303.47 1088.81 301.27 1089.98 299.06 1091.15 296.86 1092.32 294.66 1093.48 292.46 1094.65 290.25 1095.81 288.05 1096.98 285.84 1098.14 283.63 1099.3 281.43 1100.47 279.22 1101.63 277.01 1102.79 274.81 1103.96 272.6 1105.12 270.39 1106.28 268.18 1107.44 265.97 1108.61 263.76 1109.77 261.56 1110.94 259.35 1112.1 257.14 1113.27 254.93 1114.43 252.72 1115.6 250.51 1116.76 248.3 1117.93 246.09 1119.1 243.89 1120.27 241.68 1121.44 239.47 1122.62 237.26 1123.79 235.06 1124.97 232.85 1126.14 230.64 1127.32 228.44 1128.5 226.23 1129.68 224.03 1130.87 221.82 1132.05 219.62 1133.24 217.42 1134.43 215.21 1135.62 213.01 1136.81 210.81 1138.01 208.61 1139.21 206.41 1140.41 204.22 1141.61 202.02 1142.81 199.82 1144.02 197.63 1145.23 195.43 1146.45 193.24 1147.67 191.05 1148.89 188.87 1150.12 186.68 1151.35 184.5 1152.59 182.32 1153.84 180.15 1155.09 177.98 1156.35 175.82 1157.62 173.66 1158.9 171.5 1160.18 169.35 1161.47 167.21 1162.78 165.08 1164.09 162.95 1165.41 160.83 1166.74 158.72 1168.09 156.61 1169.45 154.51 1170.82 152.43 1172.2 150.35 1173.59 148.28 1175 146.22 1176.42 144.17 1177.86 142.13 1179.31 140.11 1180.78 138.09 1182.26 136.09 1183.76 134.1 1185.28 132.12 1186.81 130.15 1188.36 128.2 1189.93 126.26 1191.52 124.34 1193.13 122.43 1194.75 120.53 1196.4 118.65 1198.06 116.79 1199.75 114.94 1201.46 113.1 1203.19 111.29 1204.94 109.49 1206.72 107.71 1208.52 105.95 1210.34 104.2 1212.19 102.47 1214.06 100.77 1215.95 99.08 1217.88 97.41 1219.82 95.76 1221.8 94.13 1223.8 92.53 1225.82 90.95 1227.87 89.42 1229.95 87.93 1232.04 86.5 1234.16 85.13 1236.3 83.82 1238.47 82.6 1240.65 81.46 1242.85 80.42 1245.07 79.47 1247.31 78.64 1249.56 77.92 1251.84 77.33 1254.12 76.87 1256.42 76.55 1258.74 76.38 1261.06 76.37 1263.4 76.51 1265.75 76.82 1268.1 77.27 1270.46 77.85 1272.81 78.57 1275.15 79.41 1277.48 80.36 1279.79 81.41 1282.09 82.56 1284.36 83.79 1286.61 85.1 1288.82 86.48 1291 87.92 1293.14 89.4 1295.24 90.93 1297.3 92.49 1299.3 94.09 1301.27 95.72 1303.19 97.39 1305.07 99.08 1306.92 100.8 1308.72 102.56 1310.48 104.34 1312.21 106.16 1313.91 108 1315.56 109.86 1317.19 111.75 1318.78 113.67 1320.34 115.61 1321.87 117.57 1323.36 119.56 1324.83 121.56 1326.28 123.59 1327.69 125.63 1329.08 127.7 1330.45 129.78 1331.79 131.88 1333.11 134 1334.41 136.13 1335.69 138.27 1336.95 140.43 1338.19 142.6 1339.41 144.79 1340.62 146.98 1341.81 149.18 1342.99 151.4 1344.16 153.62 1345.31 155.85 1346.45 158.08 1347.59 160.32 1348.71 162.57 1349.82 164.82 1350.93 167.07 1352.04 169.33 1353.13 171.58 1354.22 173.85 1355.31 176.11 1356.39 178.37 1357.46 180.64 1358.53 182.91 1359.59 185.18 1360.65 187.45 1361.7 189.73 1362.75 192.01 1363.79 194.29 1364.83 196.57 1365.86 198.86 1366.88 201.14 1367.9 203.43 1368.92 205.72 1369.93 208.02 1370.94 210.31 1371.94 212.61 1372.93 214.91 1373.93 217.21 1374.91 219.51 1375.9 221.81 1376.88 224.12 1377.85 226.43 1378.82 228.73 1379.78 231.05 1380.75 233.36 1381.7 235.67 1382.66 237.99 1383.61 240.31 1384.55 242.63 1385.49 244.95 1386.43 247.27 1387.36 249.59 1388.29 251.92 1389.22 254.25 1390.14 256.58 1391.06 258.91 1391.98 261.24 1392.89 263.57 1393.8 265.9 1394.7 268.24 1395.61 270.58 1396.5 272.92 1397.4 275.25 1398.29 277.6 1399.18 279.94 1400.07 282.28 1400.96 284.62 1401.84 286.97 1402.72 289.32 1403.59 291.66 1404.47 294.01 1405.34 296.36 1406.21 298.71 1407.07 301.07 1407.94 303.42 1408.8 305.77 1409.66 308.13 1410.52 310.48 1411.37 312.84 1412.23 315.19 1413.08 317.55 1413.93 319.91 1414.77 322.27 1415.62 324.63 1416.46 326.99 1417.31 329.35 1418.15 331.71 1418.99 334.07 1419.82 336.43 1420.66 338.79 1421.49 341.15 1422.33 343.51 1423.16 345.87 1423.99 348.23 1424.82 350.6 1425.65 352.96 1426.48 355.32 1427.3 357.68 1428.13 360.04 1428.95 362.4 1429.78 364.76 1430.6 367.13 1431.42 369.49 1432.24 371.85 1433.06 374.21 1433.88 376.56 1434.71 378.92 1435.52 381.28 1436.34 383.64 1437.16 386 1437.98 388.35 1438.8 390.71 1439.62 393.06 1440.44 395.42 1441.26 397.77 1442.07 400.12 1442.89 402.47 1443.71 404.82 1444.53 407.17 1445.35 409.52 1446.17 411.87 1446.99 414.21 1447.81 416.56 1448.63 418.9 1449.45 421.24 1450.28 423.58 1451.1 425.92 1451.92 428.26 1452.75 430.59 1453.57 432.93 1454.4 435.26 1455.23 437.59 1456.05 439.92 1456.88 442.25 1457.71 444.58 1458.55 446.9 1459.38 449.23 1460.22 451.55 1461.05 453.87 1461.9 456.19 1462.74 458.51 1463.58 460.82 1464.43 463.14 1465.29 465.46 1466.14 467.77 1467 470.09 1467.87 472.4 1468.73 474.71 1469.61 477.03 1470.48 479.34 1471.36 481.65 1472.25 483.96 1473.14 486.28 1474.04 488.59 1474.94 490.9 1475.85 493.21 1476.77 495.53 1477.69 497.84 1478.62 500.15 1479.55 502.47 1480.49 504.78 1481.44 507.1 1482.4 509.41 1483.36 511.73 1484.33 514.05 1485.31 516.37 1486.3 518.69 1487.29 521.01 1488.3 523.34 1489.31 525.66 1490.34 527.99 1491.37 530.31 1492.41 532.64 1493.46 534.97 1494.52 537.29 1495.59 539.61 1496.67 541.93 1497.75 544.24 1498.85 546.55 1499.96 548.86 1501.07 551.15 1502.19 553.44 1503.33 555.72 1504.47 557.99 1505.62 560.25 1506.78 562.5 1507.95 564.74 1509.13 566.96 1510.32 569.17 1511.52 571.37 1512.72 573.55 1513.94 575.71 1515.16 577.86 1516.4 579.99 1517.65 582.11 1518.92 584.23 1520.21 586.34 1521.53 588.45 1522.88 590.57 1524.27 592.7 1525.69 594.84 1527.16 597.01 1528.68 599.19 1530.24 601.4 1531.87 603.65 1533.54 605.91 1535.27 608.16 1537.06 610.38 1538.89 612.54 1540.77 614.6 1542.69 616.53 1544.65 618.32 1546.66 619.93 1548.7 621.34 1550.78 622.51 1552.88 623.45 1555.02 624.18 1557.17 624.69 1559.35 624.99 1561.53 625.11 1563.73 625.04 1565.93 624.79 1568.12 624.39 1570.32 623.82 1572.5 623.11 1574.67 622.26 1576.82 621.29 1578.95 620.19 1581.05 618.99 1583.12 617.69 1585.15 616.3 1587.15 614.82 1589.09 613.28 1590.99 611.67 1592.84 610 1594.63 608.28 1596.38 606.51 1598.08 604.69 1599.74 602.83 1601.35 600.91 1602.93 598.96 1604.46 596.96 1605.95 594.93 1607.4 592.86 1608.82 590.76 1610.21 588.62 1611.56 586.46 1612.88 584.27 1614.17 582.06 1615.43 579.82 1616.67 577.56 1617.88 575.29 1619.07 573 1620.24 570.7 1621.39 568.39 1622.51 566.07 1623.62 563.74 1624.72 561.41 1625.8 559.08 1626.87 556.75 1627.93 554.42 1628.97 552.1 1630.01 549.78 1631.04 547.46 1632.06 545.15 1633.07 542.84 1634.07 540.53 1635.06 538.23 1636.04 535.93 1637.02 533.63 1637.99 531.33 1638.95 529.03 1639.91 526.73 1640.86 524.44 1641.8 522.15 1642.74 519.86 1643.67 517.57 1644.6 515.28 1645.52 512.99 1646.44 510.7 1647.35 508.41 1648.26 506.12 1649.16 503.83 1650.07 501.54 1650.97 499.25 1651.86 496.95 1652.76 494.66 1653.65 492.37 1654.54 490.07 1655.44 487.77 1656.32 485.47 1657.21 483.17 1658.1 480.86 1658.99 478.56 1659.88 476.25 1660.77 473.94 1661.66 471.62 1662.55 469.3 1663.45 466.98 1664.34 464.65 1665.24 462.32 1666.14 459.99 1667.04 457.65 1667.95 455.3 1668.86 452.96 1669.77 450.6 1670.69 448.25 1671.62 445.88 1672.54 443.51 1673.48 441.14 1674.42 438.76 1675.36 436.37 1676.32 433.98 1677.29 431.59 1678.28 429.2 1679.29 426.81 1680.32 424.41 1681.38 422.03 1682.48 419.64 1683.61 417.27 1684.78 414.9 1686 412.54 1687.26 410.19 1688.57 407.86 1689.94 405.53 1691.37 403.23 1692.85 400.94 1694.4 398.69 1696.02 396.52 1697.7 394.46 1699.44 392.53 1701.24 390.72 1703.07 389.07 1704.95 387.63 1706.86 386.47 1708.8 385.64 1710.76 385.2 1712.74 385.21 1714.72 385.67 1716.65 386.51 1718.48 387.66 1720.17 389.03 1721.68 390.55 1723.01 392.2 1724.23 393.96 1725.39 395.86 1726.52 397.89 1727.61 400.02 1728.68 402.26 1729.72 404.58 1730.73 406.96 1731.71 409.39 1732.66 411.86 1733.58 414.35 1734.47 416.86 1735.33 419.36 1736.17 421.88 1736.97 424.4 1737.75 426.93 1738.5 429.46 1739.23 431.99 1739.94 434.53 1740.62 437.08 1741.27 439.62 1741.91 442.17 1742.52 444.72 1743.11 447.27 1743.69 449.82 1744.24 452.37 1744.78 454.92 1745.29 457.46 1745.79 460.01 1746.28 462.55 1746.75 465.09 1747.2 467.62 1747.64 470.15 1748.07 472.68 1748.48 475.19 1748.89 477.71 1749.28 480.21 1749.66 482.71 1750.03 485.2 1750.4 487.68 1750.75 490.15 1751.1 492.61 1751.45 495.06 1751.78 497.49 1752.11 499.92 1752.44 502.34 1752.76 504.75 1753.08 507.15 1753.39 509.54 1753.7 511.93 1754 514.31 1754.3 516.69 1754.6 519.06 1754.89 521.44 1755.19 523.81 1755.47 526.18 1755.76 528.56 1756.04 530.93 1756.32 533.31 1756.6 535.7 1756.88 538.08 1757.15 540.48 1757.42 542.88 1757.69 545.29 1757.97 547.71 1758.24 550.14 1758.51 552.58 1758.78 555.04 1759.04 557.5 1759.31 559.98 1759.58 562.48 1759.85 564.99 1760.12 567.52 1760.39 570.07 1760.67 572.64 1760.94 575.23 1761.22 577.83 1761.49 580.47 1761.77 583.12 1762.05 585.8 1762.34 588.51 1762.62 591.24 1762.91 594"/>
<path class="cv" stroke="#0070c6" d="M168.38 523.65L168.99 521.12 169.58 518.62 170.16 516.14 170.71 513.68 171.25 511.24 171.78 508.81 172.3 506.4 172.81 504 173.31 501.62 173.81 499.23 174.31 496.86 174.81 494.49 175.32 492.11 175.83 489.74 176.34 487.36 176.87 484.98 177.41 482.59 177.97 480.19 178.53 477.78 179.11 475.37 179.71 472.96 180.32 470.54 180.95 468.11 181.59 465.68 182.25 463.25 182.93 460.81 183.63 458.37 184.34 455.92 185.08 453.48 185.84 451.03 186.61 448.58 187.41 446.13 188.23 443.68 189.08 441.22 189.94 438.77 190.84 436.31 191.78 433.84 192.78 431.34 193.83 428.79 194.96 426.22 196.15 423.63 197.4 421.05 198.72 418.49 200.1 415.99 201.53 413.55 203.02 411.21 204.57 408.98 206.16 406.88 207.8 404.94 209.49 403.17 211.23 401.6 213 400.25 214.82 399.14 216.67 398.3 218.55 397.72 220.47 397.4 222.41 397.33 224.38 397.48 226.37 397.85 228.37 398.42 230.38 399.17 232.39 400.1 234.42 401.18 236.44 402.4 238.45 403.74 240.46 405.2 242.45 406.75 244.43 408.39 246.39 410.09 248.32 411.84 250.22 413.64 252.1 415.45 253.94 417.28 255.75 419.14 257.53 421.01 259.28 422.9 261 424.8 262.69 426.72 264.36 428.66 266.01 430.61 267.63 432.58 269.23 434.56 270.8 436.55 272.36 438.55 273.9 440.57 275.41 442.59 276.91 444.63 278.39 446.68 279.86 448.73 281.31 450.79 282.75 452.86 284.18 454.94 285.6 457.02 287 459.1 288.39 461.2 289.78 463.29 291.16 465.39 292.53 467.49 293.9 469.59 295.26 471.7 296.62 473.8 297.98 475.9 299.34 478.01 300.69 480.11 302.05 482.21 303.41 484.3 304.77 486.4 306.14 488.48 307.51 490.57 308.88 492.64 310.27 494.71 311.66 496.78 313.06 498.83 314.47 500.88 315.89 502.92 317.32 504.95 318.77 506.96 320.23 508.97 321.7 510.96 323.2 512.95 324.71 514.91 326.23 516.87 327.78 518.81 329.35 520.73 330.94 522.64 332.55 524.53 334.18 526.41 335.84 528.27 337.52 530.1 339.23 531.92 340.97 533.72 342.74 535.5 344.53 537.25 346.36 538.99 348.22 540.7 350.1 542.38 352.02 544.04 353.97 545.66 355.95 547.24 357.95 548.78 359.98 550.28 362.04 551.72 364.13 553.12 366.23 554.45 368.37 555.73 370.52 556.94 372.7 558.09 374.9 559.16 377.12 560.15 379.36 561.07 381.62 561.91 383.9 562.65 386.19 563.31 388.5 563.87 390.83 564.33 393.18 564.69 395.54 564.95 397.91 565.09 400.29 565.14 402.68 565.08 405.08 564.93 407.49 564.68 409.89 564.34 412.3 563.92 414.71 563.42 417.11 562.84 419.51 562.18 421.9 561.46 424.29 560.66 426.66 559.81 429.01 558.89 431.35 557.92 433.68 556.89 435.98 555.81 438.26 554.69 440.52 553.53 442.75 552.33 444.96 551.09 447.15 549.82 449.31 548.51 451.45 547.16 453.56 545.79 455.66 544.38 457.73 542.94 459.79 541.47 461.82 539.97 463.83 538.44 465.83 536.89 467.81 535.31 469.76 533.71 471.71 532.09 473.63 530.44 475.54 528.77 477.44 527.09 479.32 525.39 481.18 523.66 483.03 521.93 484.87 520.18 486.7 518.41 488.52 516.63 490.32 514.84 492.11 513.04 493.89 511.23 495.67 509.42 497.43 507.59 499.19 505.77 500.93 503.93 502.67 502.09 504.41 500.26 506.14 498.41 507.86 496.57 509.57 494.73 511.29 492.9 513 491.06 514.7 489.23 516.4 487.41 518.11 485.59 519.8 483.79 521.5 481.99 523.2 480.2 524.9 478.42 526.6 476.65 528.3 474.9 530 473.17 531.71 471.44 533.42 469.73 535.13 468.03 536.85 466.33 538.58 464.65 540.31 462.97 542.06 461.3 543.81 459.64 545.58 457.97 547.36 456.32 549.15 454.66 550.95 453 552.77 451.35 554.61 449.69 556.46 448.03 558.34 446.36 560.23 444.69 562.14 443.02 564.07 441.34 566.02 439.66 567.99 437.98 569.98 436.31 571.99 434.65 574.02 433 576.07 431.37 578.14 429.76 580.23 428.16 582.34 426.6 584.46 425.06 586.61 423.56 588.77 422.09 590.95 420.66 593.16 419.28 595.38 417.94 597.61 416.64 599.87 415.4 602.14 414.2 604.43 413.06 606.73 411.96 609.04 410.91 611.37 409.92 613.71 408.97 616.07 408.08 618.43 407.24 620.8 406.46 623.19 405.73 625.58 405.05 627.97 404.43 630.38 403.86 632.79 403.35 635.2 402.9 637.62 402.5 640.04 402.16 642.46 401.88 644.89 401.66 647.31 401.5 649.74 401.4 652.17 401.36 654.59 401.38 657.01 401.46 659.43 401.6 661.84 401.81 664.25 402.08 666.65 402.41 669.04 402.8 671.43 403.26 673.82 403.77 676.19 404.33 678.56 404.95 680.92 405.63 683.28 406.35 685.62 407.13 687.96 407.95 690.29 408.82 692.61 409.74 694.92 410.7 697.22 411.7 699.51 412.75 701.79 413.83 704.06 414.95 706.32 416.11 708.56 417.3 710.8 418.53 713.02 419.79 715.23 421.08 717.43 422.4 719.61 423.74 721.78 425.11 723.94 426.51 726.08 427.93 728.21 429.36 730.32 430.82 732.42 432.3 734.51 433.8 736.58 435.3 738.63 436.83 740.66 438.36 742.68 439.91 744.68 441.46 746.67 443.03 748.64 444.6 750.59 446.17 752.52 447.75 754.44 449.34 756.35 450.93 758.24 452.52 760.12 454.12 761.99 455.73 763.84 457.34 765.69 458.95 767.53 460.57 769.36 462.19 771.18 463.81 773 465.44 774.81 467.07 776.61 468.7 778.41 470.34 780.21 471.97 782.01 473.61 783.8 475.25 785.6 476.89 787.39 478.53 789.19 480.17 790.98 481.82 792.78 483.46 794.59 485.1 796.4 486.74 798.21 488.39 800.03 490.03 801.86 491.67 803.69 493.31 805.53 494.94 807.39 496.58 809.25 498.21 811.13 499.85 813.01 501.48 814.91 503.1 816.83 504.73 818.76 506.35 820.7 507.96 822.66 509.58 824.64 511.19 826.63 512.79 828.65 514.39 830.68 515.99 832.73 517.57 834.8 519.14 836.89 520.7 838.99 522.25 841.11 523.77 843.25 525.28 845.4 526.76 847.57 528.21 849.75 529.64 851.95 531.04 854.16 532.4 856.38 533.73 858.62 535.02 860.87 536.27 863.13 537.48 865.4 538.64 867.68 539.76 869.98 540.83 872.28 541.84 874.6 542.8 876.92 543.71 879.26 544.55 881.6 545.33 883.95 546.05 886.31 546.7 888.68 547.29 891.05 547.8 893.43 548.24 895.81 548.6 898.2 548.89 900.6 549.09 903 549.23 905.4 549.29 907.8 549.28 910.2 549.2 912.61 549.05 915.01 548.83 917.41 548.55 919.8 548.2 922.19 547.79 924.58 547.31 926.96 546.78 929.33 546.18 931.7 545.52 934.06 544.81 936.4 544.04 938.74 543.22 941.06 542.35 943.37 541.42 945.67 540.44 947.95 539.42 950.22 538.35 952.47 537.23 954.7 536.06 956.92 534.85 959.11 533.6 961.28 532.31 963.44 530.98 965.57 529.61 967.67 528.21 969.76 526.77 971.81 525.29 973.84 523.78 975.85 522.24 977.82 520.67 979.77 519.07 981.68 517.45 983.57 515.8 985.43 514.12 987.26 512.41 989.06 510.68 990.84 508.93 992.59 507.15 994.32 505.35 996.02 503.53 997.69 501.69 999.34 499.82 1000.97 497.94 1002.58 496.03 1004.17 494.11 1005.73 492.17 1007.27 490.21 1008.8 488.23 1010.3 486.24 1011.79 484.23 1013.26 482.21 1014.71 480.17 1016.15 478.11 1017.57 476.05 1018.97 473.97 1020.36 471.88 1021.74 469.78 1023.1 467.67 1024.45 465.54 1025.79 463.41 1027.11 461.27 1028.43 459.13 1029.73 456.97 1031.03 454.81 1032.31 452.64 1033.59 450.47 1034.86 448.29 1036.13 446.11 1037.38 443.92 1038.64 441.73 1039.88 439.54 1041.12 437.35 1042.36 435.16 1043.6 432.96 1044.82 430.76 1046.05 428.56 1047.27 426.36 1048.48 424.16 1049.69 421.96 1050.9 419.75 1052.1 417.54 1053.3 415.34 1054.5 413.13 1055.69 410.92 1056.88 408.7 1058.06 406.49 1059.24 404.27 1060.42 402.06 1061.59 399.84 1062.76 397.62 1063.93 395.4 1065.09 393.18 1066.25 390.95 1067.41 388.73 1068.56 386.51 1069.71 384.28 1070.86 382.05 1072 379.82 1073.15 377.59 1074.28 375.36 1075.42 373.13 1076.55 370.9 1077.69 368.67 1078.81 366.43 1079.94 364.2 1081.06 361.96 1082.18 359.72 1083.3 357.49 1084.42 355.25 1085.53 353.01 1086.65 350.77 1087.76 348.53 1088.87 346.29 1089.97 344.04 1091.08 341.8 1092.18 339.56 1093.28 337.31 1094.38 335.07 1095.48 332.82 1096.58 330.58 1097.67 328.33 1098.77 326.09 1099.86 323.84 1100.95 321.59 1102.04 319.34 1103.13 317.1 1104.22 314.85 1105.31 312.6 1106.39 310.35 1107.48 308.1 1108.56 305.85 1109.65 303.6 1110.73 301.35 1111.81 299.1 1112.9 296.85 1113.98 294.6 1115.06 292.35 1116.14 290.1 1117.22 287.85 1118.31 285.6 1119.39 283.35 1120.47 281.1 1121.55 278.85 1122.63 276.6 1123.71 274.35 1124.79 272.1 1125.88 269.85 1126.96 267.6 1128.04 265.35 1129.12 263.1 1130.21 260.85 1131.29 258.6 1132.38 256.35 1133.46 254.1 1134.55 251.86 1135.64 249.61 1136.73 247.36 1137.82 245.12 1138.91 242.87 1140 240.63 1141.09 238.38 1142.19 236.14 1143.28 233.89 1144.38 231.65 1145.48 229.41 1146.58 227.17 1147.68 224.93 1148.79 222.69 1149.9 220.45 1151.01 218.21 1152.12 215.98 1153.24 213.74 1154.36 211.51 1155.49 209.28 1156.62 207.05 1157.75 204.83 1158.89 202.6 1160.04 200.38 1161.19 198.16 1162.34 195.95 1163.5 193.73 1164.67 191.52 1165.84 189.31 1167.02 187.11 1168.2 184.9 1169.4 182.7 1170.6 180.51 1171.8 178.31 1173.02 176.12 1174.24 173.94 1175.47 171.76 1176.7 169.58 1177.95 167.4 1179.2 165.23 1180.47 163.07 1181.74 160.9 1183.02 158.75 1184.32 156.59 1185.62 154.45 1186.93 152.3 1188.25 150.16 1189.59 148.03 1190.93 145.9 1192.29 143.78 1193.65 141.66 1195.03 139.55 1196.42 137.44 1197.82 135.34 1199.24 133.25 1200.68 131.18 1202.12 129.11 1203.59 127.05 1205.07 125.01 1206.57 122.99 1208.09 120.97 1209.63 118.98 1211.19 117 1212.77 115.04 1214.37 113.11 1215.99 111.19 1217.64 109.29 1219.31 107.42 1221.01 105.57 1222.73 103.75 1224.48 101.95 1226.25 100.18 1228.06 98.44 1229.89 96.73 1231.75 95.05 1233.64 93.4 1235.56 91.79 1237.52 90.21 1239.5 88.66 1241.52 87.15 1243.58 85.68 1245.67 84.24 1247.79 82.85 1249.95 81.5 1252.13 80.22 1254.35 79.01 1256.59 77.88 1258.85 76.84 1261.14 75.91 1263.44 75.08 1265.76 74.38 1268.1 73.82 1270.44 73.4 1272.79 73.13 1275.15 73.03 1277.52 73.1 1279.88 73.33 1282.24 73.71 1284.59 74.23 1286.93 74.89 1289.25 75.68 1291.56 76.59 1293.84 77.6 1296.1 78.72 1298.33 79.93 1300.52 81.22 1302.67 82.59 1304.79 84.02 1306.86 85.51 1308.88 87.05 1310.84 88.62 1312.76 90.24 1314.62 91.89 1316.44 93.57 1318.2 95.28 1319.93 97.02 1321.61 98.79 1323.25 100.59 1324.85 102.42 1326.41 104.27 1327.94 106.15 1329.44 108.05 1330.91 109.98 1332.35 111.93 1333.77 113.89 1335.16 115.88 1336.53 117.89 1337.88 119.91 1339.22 121.95 1340.54 124 1341.85 126.07 1343.14 128.15 1344.43 130.25 1345.7 132.35 1346.96 134.47 1348.21 136.61 1349.44 138.75 1350.67 140.91 1351.88 143.08 1353.09 145.25 1354.28 147.44 1355.46 149.64 1356.64 151.85 1357.8 154.07 1358.95 156.29 1360.09 158.53 1361.23 160.77 1362.35 163.03 1363.47 165.29 1364.57 167.55 1365.67 169.83 1366.76 172.11 1367.84 174.4 1368.91 176.69 1369.97 178.99 1371.03 181.29 1372.07 183.6 1373.11 185.92 1374.15 188.23 1375.17 190.56 1376.19 192.88 1377.2 195.21 1378.21 197.54 1379.21 199.88 1380.2 202.21 1381.18 204.55 1382.16 206.89 1383.14 209.23 1384.11 211.58 1385.07 213.92 1386.03 216.26 1386.98 218.6 1387.93 220.95 1388.87 223.29 1389.81 225.63 1390.74 227.97 1391.67 230.3 1392.6 232.64 1393.52 234.97 1394.44 237.3 1395.36 239.63 1396.27 241.95 1397.18 244.28 1398.08 246.6 1398.98 248.92 1399.88 251.25 1400.77 253.56 1401.66 255.88 1402.55 258.2 1403.44 260.52 1404.32 262.83 1405.2 265.15 1406.07 267.46 1406.95 269.78 1407.82 272.09 1408.69 274.41 1409.56 276.72 1410.42 279.04 1411.28 281.35 1412.15 283.67 1413 285.98 1413.86 288.3 1414.72 290.62 1415.57 292.93 1416.42 295.25 1417.27 297.57 1418.12 299.89 1418.97 302.22 1419.81 304.54 1420.66 306.86 1421.5 309.19 1422.35 311.52 1423.19 313.85 1424.03 316.18 1424.87 318.52 1425.71 320.85 1426.55 323.19 1427.39 325.53 1428.23 327.88 1429.07 330.22 1429.91 332.57 1430.74 334.93 1431.58 337.28 1432.42 339.64 1433.26 342 1434.1 344.36 1434.93 346.73 1435.77 349.09 1436.61 351.46 1437.45 353.83 1438.29 356.2 1439.13 358.58 1439.96 360.95 1440.8 363.33 1441.64 365.7 1442.48 368.08 1443.32 370.46 1444.16 372.84 1445 375.22 1445.84 377.6 1446.68 379.98 1447.52 382.37 1448.37 384.75 1449.21 387.13 1450.05 389.51 1450.89 391.89 1451.74 394.27 1452.58 396.65 1453.43 399.03 1454.27 401.41 1455.12 403.79 1455.97 406.16 1456.81 408.54 1457.66 410.91 1458.51 413.28 1459.36 415.65 1460.21 418.02 1461.06 420.39 1461.92 422.75 1462.77 425.12 1463.62 427.48 1464.48 429.83 1465.33 432.19 1466.19 434.54 1467.05 436.89 1467.91 439.24 1468.77 441.58 1469.63 443.92 1470.49 446.26 1471.35 448.59 1472.22 450.93 1473.08 453.25 1473.95 455.57 1474.82 457.89 1475.69 460.21 1476.56 462.52 1477.43 464.82 1478.31 467.13 1479.18 469.43 1480.06 471.72 1480.95 474.02 1481.83 476.31 1482.73 478.59 1483.62 480.88 1484.52 483.16 1485.43 485.45 1486.34 487.73 1487.26 490 1488.19 492.28 1489.12 494.56 1490.06 496.84 1491 499.11 1491.96 501.39 1492.92 503.66 1493.9 505.94 1494.88 508.22 1495.87 510.5 1496.88 512.78 1497.89 515.06 1498.92 517.34 1499.95 519.62 1501 521.91 1502.06 524.2 1503.13 526.49 1504.22 528.78 1505.32 531.08 1506.43 533.38 1507.56 535.68 1508.71 537.99 1509.86 540.3 1511.04 542.62 1512.23 544.94 1513.43 547.26 1514.66 549.59 1515.9 551.92 1517.16 554.25 1518.44 556.58 1519.75 558.89 1521.08 561.18 1522.44 563.46 1523.83 565.71 1525.25 567.94 1526.71 570.13 1528.2 572.28 1529.72 574.39 1531.29 576.45 1532.9 578.47 1534.55 580.42 1536.24 582.32 1537.99 584.16 1539.78 585.92 1541.62 587.62 1543.51 589.23 1545.46 590.76 1547.47 592.21 1549.53 593.57 1551.65 594.83 1553.82 595.98 1556.02 597.01 1558.24 597.91 1560.48 598.67 1562.73 599.28 1564.96 599.73 1567.18 600 1569.37 600.09 1571.53 599.99 1573.65 599.71 1575.74 599.26 1577.8 598.65 1579.82 597.88 1581.81 596.96 1583.77 595.9 1585.69 594.7 1587.57 593.37 1589.43 591.92 1591.24 590.35 1593.02 588.68 1594.77 586.9 1596.48 585.02 1598.15 583.06 1599.79 581.01 1601.39 578.89 1602.95 576.71 1604.48 574.46 1605.97 572.15 1607.42 569.81 1608.84 567.42 1610.21 564.99 1611.55 562.54 1612.85 560.07 1614.11 557.59 1615.33 555.1 1616.52 552.61 1617.66 550.13 1618.77 547.66 1619.85 545.21 1620.9 542.76 1621.92 540.32 1622.93 537.91 1623.92 535.5 1624.89 533.12 1625.87 530.75 1626.83 528.4 1627.8 526.07 1628.77 523.77 1629.75 521.48 1630.74 519.22 1631.72 516.97 1632.72 514.74 1633.71 512.52 1634.7 510.31 1635.69 508.1 1636.67 505.9 1637.66 503.71 1638.63 501.51 1639.6 499.3 1640.56 497.1 1641.5 494.88 1642.44 492.65 1643.36 490.42 1644.27 488.17 1645.17 485.91 1646.06 483.65 1646.95 481.37 1647.82 479.09 1648.68 476.79 1649.53 474.49 1650.38 472.18 1651.22 469.87 1652.05 467.54 1652.87 465.21 1653.69 462.88 1654.5 460.53 1655.3 458.18 1656.1 455.83 1656.9 453.47 1657.69 451.1 1658.47 448.73 1659.26 446.36 1660.04 443.98 1660.81 441.59 1661.59 439.21 1662.36 436.82 1663.14 434.42 1663.91 432.03 1664.68 429.63 1665.45 427.23 1666.22 424.83 1667 422.42 1667.77 420.02 1668.55 417.61 1669.32 415.2 1670.1 412.8 1670.89 410.39 1671.67 407.99 1672.47 405.58 1673.26 403.18 1674.06 400.77 1674.87 398.37 1675.68 395.97 1676.49 393.57 1677.32 391.18 1678.15 388.79 1678.99 386.4 1679.83 384.01 1680.69 381.63 1681.55 379.25 1682.42 376.88 1683.3 374.51 1684.19 372.14 1685.1 369.78 1686.01 367.43 1686.93 365.08 1687.87 362.74 1688.82 360.41 1689.78 358.08 1690.75 355.76 1691.74 353.44 1692.74 351.14 1693.77 348.84 1694.82 346.55 1695.9 344.26 1697.02 341.99 1698.19 339.72 1699.4 337.45 1700.66 335.2 1701.98 332.95 1703.37 330.71 1704.82 328.48 1706.35 326.26 1707.94 324.09 1709.59 322.01 1711.28 320.07 1713.01 318.34 1714.77 316.85 1716.54 315.67 1718.31 314.83 1720.07 314.39 1721.82 314.41 1723.54 314.88 1725.23 315.77 1726.88 317.03 1728.49 318.59 1730.05 320.41 1731.56 322.44 1733.01 324.62 1734.39 326.91 1735.71 329.25 1736.95 331.61 1738.13 333.99 1739.24 336.38 1740.28 338.79 1741.27 341.22 1742.2 343.65 1743.08 346.1 1743.9 348.56 1744.68 351.03 1745.41 353.5 1746.1 355.99 1746.75 358.48 1747.36 360.97 1747.95 363.47 1748.5 365.97 1749.02 368.48 1749.52 370.98 1750 373.49 1750.46 375.99 1750.91 378.49 1751.34 380.99 1751.76 383.48 1752.18 385.96 1752.59 388.44 1753.01 390.91 1753.42 393.37 1753.84 395.82 1754.27 398.26 1754.7 400.69 1755.14 403.12 1755.58 405.53 1756.02 407.95 1756.45 410.36 1756.89 412.77 1757.32 415.18 1757.74 417.6 1758.16 420.01 1758.57 422.44 1758.97 424.87 1759.35 427.31 1759.72 429.76 1760.07 432.22 1760.41 434.7 1760.73 437.19 1761.03 439.7 1761.31 442.23 1761.56 444.78 1761.79 447.35 1761.99 449.94 1762.16 452.56 1762.3 455.2 1762.41 457.88"/>
<!-- axis tick labels -->
<text transform="translate(89.8 47.6)" x="0 27" font-size="54">12</text>
<text transform="translate(89.8 206.6)" x="0 27" font-size="54">10</text>
<text transform="translate(102.8 367.7)" x="0" font-size="54">8</text>
<text transform="translate(102.8 527.4)" x="0" font-size="54">6</text>
<text transform="translate(102.8 687.4)" x="0" font-size="54">4</text>
<text transform="translate(102.8 847.4)" x="0" font-size="54">2</text>
<text transform="translate(146.8 1047.5)" x="0" font-size="54">0</text>
<text transform="translate(445 1047.5)" x="0 27" font-size="54">10</text>
<text transform="translate(751.5 1047.5)" x="0 27" font-size="54">20</text>
<text transform="translate(1058.1 1047.5)" x="0 27" font-size="54">30</text>
<text transform="translate(1364.8 1047.5)" x="0 27" font-size="54">40</text>
<text transform="translate(1671.4 1047.5)" x="0 27" font-size="54">50</text>
<!-- axis titles -->
<text transform="translate(840.9 1091)" x="0 32.99 47.99 89.99 113.96 128.96 155.96" font-size="54">Time/7d</text>
<text transform="translate(61.00 912.00) rotate(-90) scale(1 1)" font-size="54" xml:space="preserve"><tspan x="0 32.99 47.99 71.96 95.92 110.93 128.91 143.91 167.88 182.88 197.89 224.89">Electricity </tspan><tspan x="238.39 262.46 289.57 316.68 337.8 364.91 407.02 434.12 449.24 464.35 491.45 518.56 536.65 563.76">consumption(10</tspan><tspan x="590.76" font-size="36" dy="-24.2">3</tspan><tspan x="608.26" dy="24.2">k</tspan><tspan x="635.86">W</tspan><tspan x="687.13 705.11">·h</tspan><tspan x="732.51">)</tspan></text>
<!-- legend -->
<path class="lg" stroke="#000000" d="M239.70 894.50H329.20"/>
<text transform="translate(337.85 912.6)" x="0 31.44 49.57 76.72 100.84 114.49 141.64 165.75 180.91 208.06" font-size="54">True value</text>
<path class="lg" stroke="#0070c6" d="M619.20 894.50H709.50"/>
<text transform="translate(722 912.6)" x="0 33.15 63.35 96.5" font-size="54">LSTM</text>
<path class="lg" stroke="#66cc33" d="M901.30 894.50H991.20"/>
<text transform="translate(1000.4 912.6)" x="0 36.22 51.42 84.61 114.84 148.02" font-size="54">BiLSTM</text>
<path class="lg" stroke="#ff9640" d="M1241.60 894.50H1331.90"/>
<text transform="translate(1338.8 912.6)" x="0 30.25 66.49 105.71 123.92 160.16 175.38 208.59 247.81 281.02" font-size="54">PCA-BiLATM</text>
</svg></body></html>
